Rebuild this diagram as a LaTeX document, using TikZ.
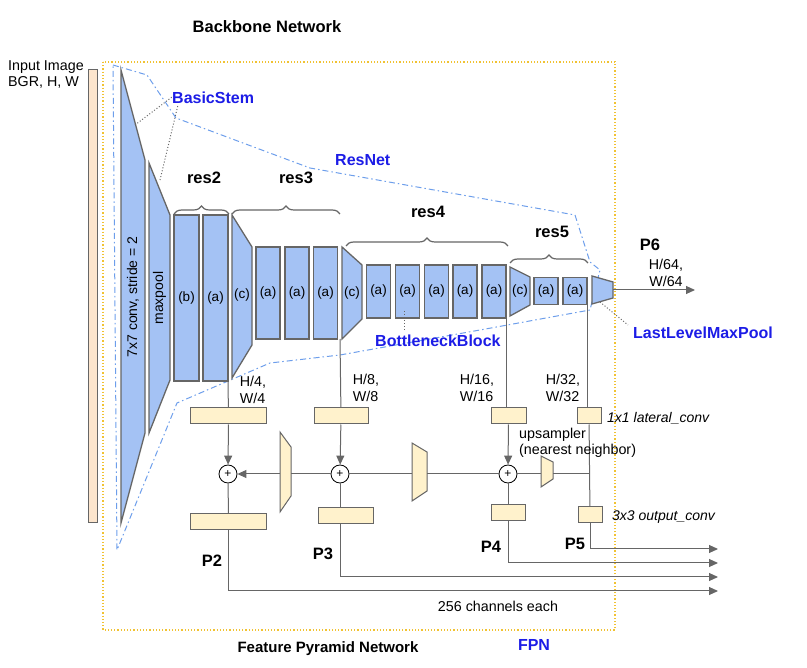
\documentclass[tikz,border=0pt]{standalone}
\usepackage{fontspec}
\setmainfont{Liberation Sans}
\usetikzlibrary{decorations.pathreplacing,arrows.meta}
\definecolor{bfill}{HTML}{A4C2F4}
\definecolor{bdraw}{HTML}{666666}
\definecolor{tfill}{HTML}{FFF2CC}
\definecolor{ifill}{HTML}{FCE5CD}
\definecolor{ydot}{HTML}{F1C232}
\definecolor{bdash}{HTML}{6D9EEB}
\definecolor{btext}{HTML}{1C1CE6}
\tikzset{
 blk/.style={draw=bdraw,fill=bfill,line width=1.3pt,inner sep=0pt,font=\fontsize{13.5}{15}\selectfont},
 trap/.style={draw=bdraw,fill=bfill,line width=1.3pt},
 fbox/.style={draw=bdraw,fill=tfill,line width=1pt,inner sep=0pt,minimum height=16pt},
 ftrap/.style={draw=bdraw,fill=tfill,line width=1pt},
 wire/.style={draw=bdraw,line width=1pt},
 arr/.style={wire,-{Triangle[length=9pt,width=8pt]}},
 plus/.style={circle,draw=black,fill=white,line width=0.8pt,minimum size=18pt,inner sep=0pt,font=\fontsize{12}{12}\selectfont},
 lab/.style={font=\fontsize{14.3}{16.5}\selectfont,align=left,inner sep=0pt},
 bold/.style={font=\fontsize{16.5}{18}\selectfont\bfseries,inner sep=0pt},
 blue/.style={font=\fontsize{16}{18}\selectfont\bfseries,text=btext,inner sep=0pt},
 brc/.style={draw=bdraw,line width=1.2pt,decorate,decoration={brace,amplitude=8pt}},
 dsh/.style={draw=bdash,line width=1pt,dash pattern=on 6pt off 3pt on 1.5pt off 3pt},
 dtt/.style={draw=bdraw,line width=1pt,dotted},
}
\begin{document}
\begin{tikzpicture}[x=1pt,y=-1pt]
\useasboundingbox (0,0) rectangle (807,668);
% frame
\draw[ydot,line width=1.2pt,dotted] (103,62) rectangle (615,630);
% input
\node[draw=bdraw,fill=ifill,line width=1pt,minimum width=9pt,minimum height=453pt,inner sep=0pt] (inp) at (92.5,296.5) {};
\node[lab,anchor=north west] (inptxt) at (8,60) {Input Image\\BGR, H, W};
% dash-dot outlines
\draw[dsh] (113,65) -- (147,75) -- (176,118) -- (310,168) -- (575,215) -- (590,262) -- (600,270) -- (590,310) -- (480,330) -- (340,355) -- (270,363) -- (177,403) -- (117,550) -- cycle;
% stem
\draw[trap] (121,70) -- (145,160) -- (145,433) -- (121,523) -- cycle;
\node[rotate=90,font=\fontsize{14}{16}\selectfont] (conv) at (133,297) {7x7 conv, stride = 2};
\draw[trap] (149,163) -- (170,215) -- (170,380) -- (149,433) -- cycle;
\node[rotate=90,font=\fontsize{14}{16}\selectfont] (mp) at (159.5,298) {maxpool};
% res2
\node[blk,minimum width=25pt,minimum height=166pt] (b1) at (186.5,298) {(b)};
\node[blk,minimum width=25pt,minimum height=166pt] (b2) at (215.5,298) {(a)};
\draw[trap] (232,215) -- (252,247) -- (252,345) -- (232,378) -- cycle;
\node[font=\fontsize{13.5}{15}\selectfont] (c1) at (242,295) {(c)};
% res3
\foreach \x/\n in {268/b3,297/b4,325.5/b5}
  \node[blk,minimum width=24pt,minimum height=92pt] (\n) at (\x,293) {(a)};
\draw[trap] (342,247) -- (362,265) -- (362,319) -- (342,339) -- cycle;
\node[font=\fontsize{13.5}{15}\selectfont] (c2) at (352,293) {(c)};
% res4
\foreach \x/\n in {378.5/b6,407.5/b7,436.5/b8,465/b9,494/b10}
  \node[blk,minimum width=24pt,minimum height=53pt] (\n) at (\x,291.5) {(a)};
\draw[trap] (510,267) -- (530,277) -- (530,305) -- (510,316) -- cycle;
\node[font=\fontsize{13.5}{15}\selectfont] (c3) at (520,291) {(c)};
% res5
\foreach \x/\n in {546/b11,575/b12}
  \node[blk,minimum width=24pt,minimum height=27pt] (\n) at (\x,291) {(a)};
\draw[trap] (592,276) -- (613,282) -- (613,298) -- (592,304) -- cycle;
\coordinate (llm) at (613,290);
\coordinate (p6end) at (695,290);
\draw[arr] (llm) -- (p6end);
\node[bold] (p6) at (650,245) {P6};
\node[lab,align=center] (p6t) at (666,273) {H/64,\\W/64};
% braces
\draw[brc] (174,214) -- (229,214);
\node[bold] (r2) at (204,178) {res2};
\draw[brc] (232,214) -- (340,214);
\node[bold] (r3) at (296,178) {res3};
\draw[brc] (346,246) -- (508,246);
\node[bold] (r4) at (428,212) {res4};
\draw[brc] (510,263) -- (588,263);
\node[bold] (r5) at (552,232) {res5};
% labels
\node[blue,anchor=west] (bs) at (172,98) {BasicStem};
\draw[dtt] (135,125) -- (172,97);
\draw[dtt] (160,180) -- (178,105);
\node[blue,anchor=west] (rn) at (335,160) {ResNet};
\node[blue,anchor=west] (bb) at (375,341) {BottleneckBlock};
\draw[dtt] (404,311) -- (404,330);
\node[blue,anchor=west] (llmp) at (633,333) {LastLevelMaxPool};
\draw[dtt] (600,302) -- (628,325);
\node[bold] (t1) at (267,27) {Backbone Network};
\node[bold,font=\fontsize{15}{17}\selectfont\bfseries] (t2) at (328,649) {Feature Pyramid Network};
\node[blue] (fpn) at (534,645) {FPN};
% FPN lateral
\node[fbox,minimum width=76pt] (l1) at (228.5,416) {};
\node[fbox,minimum width=54pt] (l2) at (341,416) {};
\node[fbox,minimum width=35pt] (l3) at (508.5,416) {};
\node[fbox,minimum width=24pt] (l4) at (589,416) {};
\node[plus] (s1) at (228,474) {+};
\node[plus] (s2) at (340,474) {+};
\node[plus] (s3) at (508,474) {+};
\node[fbox,minimum width=76pt] (o1) at (228.5,522) {};
\node[fbox,minimum width=55pt] (o2) at (345.5,515.5) {};
\node[fbox,minimum width=34pt] (o3) at (508,512.5) {};
\node[fbox,minimum width=24pt] (o4) at (590,515) {};
% FPN trapezoids
\draw[ftrap] (280,432) -- (291,447) -- (291,496) -- (280,512) -- cycle;
\draw[ftrap] (412,443) -- (427,452) -- (427,491) -- (412,501) -- cycle;
\draw[ftrap] (541,456) -- (553,462) -- (553,479) -- (541,487) -- cycle;
% wires
\draw[wire] (228,381) -- (l1);
\draw[wire] (340,339) -- (l2);
\draw[wire] (506,318) -- (506,408);
\draw[wire] (587,305) -- (587,408);
\draw[arr] (l1) -- (s1);
\draw[arr] (l2) -- (s2);
\draw[arr] (l3) -- (s3);
\draw[wire] (l4) -- (o4);
\coordinate (j4) at (589,474);
\draw[wire] (j4) -- (553,474);
\draw[wire] (541,474) -- (s3);
\draw[wire] (s3) -- (427,474);
\draw[wire] (412,474) -- (s2);
\draw[wire] (s2) -- (291,474);
\draw[arr] (280,474) -- (s1);
\draw[wire] (s1) -- (o1);
\draw[wire] (s2) -- (340,507);
\draw[wire] (s3) -- (o3);
\draw[arr] (o4.south) |- (718,549);
\draw[arr] (o3.south) |- (718,563);
\draw[arr] (340,524) |- (718,577);
\draw[arr] (o1.south) |- (718,591);
% FPN labels
\node[lab] (h4) at (253,390) {H/4,\\W/4};
\node[lab] (h8) at (366,388) {H/8,\\W/8};
\node[lab] (h16) at (477,388) {H/16,\\W/16};
\node[lab] (h32) at (563,388) {H/32,\\W/32};
\node[lab,anchor=west] (up) at (519,443) {upsampler\\(nearest neighbor)};
\node[lab,anchor=west,font=\fontsize{14}{16}\selectfont\itshape] (lat) at (607,418) {1x1 lateral\_conv};
\node[lab,anchor=west,font=\fontsize{14}{16}\selectfont\itshape] (outc) at (612,517) {3x3 output\_conv};
\node[bold] (P2) at (212,561) {P2};
\node[bold] (P3) at (323,554) {P3};
\node[bold] (P4) at (491,547) {P4};
\node[bold] (P5) at (575,544) {P5};
\node[lab] (ch) at (498,606) {256 channels each};
\end{tikzpicture}
\end{document}
